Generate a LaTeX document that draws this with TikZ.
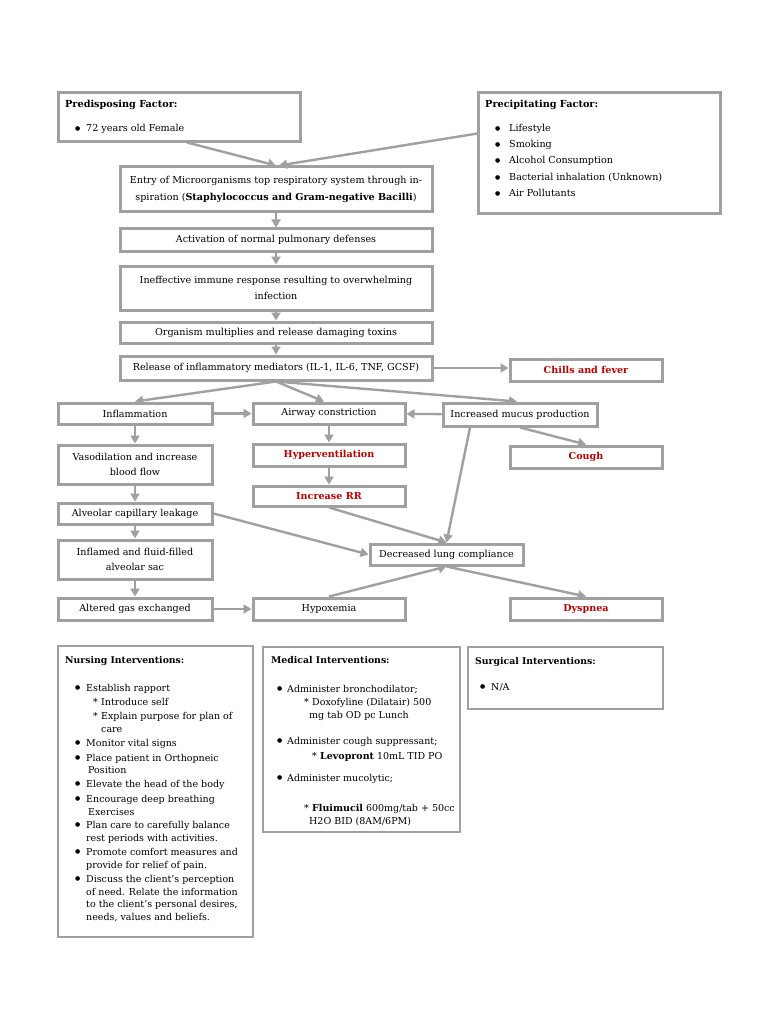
\documentclass[tikz,border=0pt]{standalone}
\usepackage{fontspec}
\setmainfont{DejaVu Serif}
\usetikzlibrary{arrows.meta,calc}
\definecolor{bgray}{RGB}{160,160,160}
\definecolor{dred}{RGB}{190,0,0}
\newcommand{\dotb}{\raisebox{1.2pt}{\fontsize{6}{6}\selectfont ●}}
\begin{document}
\begin{tikzpicture}[x=1pt,y=-1pt,
  box/.style={draw=bgray, line width=3pt, fill=white, inner sep=0pt, align=center,
    font=\fontsize{9.6}{15.5}\selectfont},
  wbox/.style={box, minimum width=154, minimum height=21},
  frame/.style={draw=bgray, line width=2.4pt, fill=white, inner sep=0pt},
  hl/.style={text=dred, font=\fontsize{9.6}{15.5}\selectfont\bfseries},
  arr/.style={draw=bgray, line width=2.4pt, -{Triangle[length=8pt,width=9pt]}},
  txt/.style={anchor=base west, inner sep=0pt, font=\fontsize{9.5}{11}\selectfont},
  ttl/.style={anchor=base west, inner sep=0pt, font=\fontsize{9.3}{11}\selectfont\bfseries},
  ftxt/.style={anchor=base west, inner sep=0pt, font=\fontsize{9.6}{11}\selectfont},
  ftl/.style={anchor=base west, inner sep=0pt, font=\fontsize{9.7}{11}\selectfont\bfseries}]
\path[fill=white] (0,0) rectangle (768,1024);
\useasboundingbox (0,0) rectangle (768,1024);

% ---------- factor boxes ----------
\node[box, minimum width=242, minimum height=49] (pre) at (179,117.5) {};
\node[ftl] (preT) at (65,108) {Predisposing Factor:};
\node[ftxt] (preB) at (75,132) {\dotb};
\node[ftxt] (pre1) at (86,132) {72 years old Female};

\node[box, minimum width=242, minimum height=121] (prec) at (599,153.5) {};
\node[ftl] (precT) at (485,108) {Precipitating Factor:};
\node[ftxt] (pb1) at (495,132) {\dotb};
\node[ftxt] (p1) at (509,132) {Lifestyle};
\node[ftxt] (pb2) at (495,148) {\dotb};
\node[ftxt] (p2) at (509,148) {Smoking};
\node[ftxt] (pb3) at (495,164) {\dotb};
\node[ftxt] (p3) at (509,164) {Alcohol Consumption};
\node[ftxt] (pb4) at (495,181) {\dotb};
\node[ftxt] (p4) at (509,181) {Bacterial inhalation (Unknown)};
\node[ftxt] (pb5) at (495,197) {\dotb};
\node[ftxt] (p5) at (509,197) {Air Pollutants};

% ---------- main chain ----------
\node[box, minimum width=312, minimum height=45, font=\fontsize{9.6}{17}\selectfont] (entry) at (276,189.5)
  {Entry of Microorganisms top respiratory system through in-\\spiration (\textbf{Staphylococcus and Gram-negative Bacilli})};
\node[box, minimum width=312, minimum height=22] (act) at (276,240) {Activation of normal pulmonary defenses};
\node[box, minimum width=312, minimum height=44] (ineff) at (276,288)
  {Ineffective immune response resulting to overwhelming\\infection};
\node[box, minimum width=312, minimum height=21] (org) at (276,332.5) {Organism multiplies and release damaging toxins};
\node[box, minimum width=312, minimum height=24] (rel) at (276,368) {Release of inflammatory mediators (IL-1, IL-6, TNF, GCSF)};
\node[box, minimum width=152, minimum height=22, hl] (chills) at (586,370) {Chills and fever};

\node[wbox] (infl) at (135,413.5) {Inflammation};
\node[box, minimum width=152, minimum height=21] (air) at (329,413.5) {Airway constriction};
\node[box, minimum width=154, minimum height=23] (muc) at (520,414.5) {Increased mucus production};

\node[box, minimum width=152, minimum height=22, hl] (hyperv) at (329,455) {Hyperventilation};
\node[box, minimum width=152, minimum height=20, hl] (rr) at (329,496) {Increase RR};
\node[box, minimum width=152, minimum height=22, hl] (cough) at (586,457) {Cough};

\node[box, minimum width=154, minimum height=39, font=\fontsize{9.6}{14.5}\selectfont] (vaso) at (135,464.5) {Vasodilation and increase\\blood flow};
\node[wbox] (alv) at (135,513.5) {Alveolar capillary leakage};
\node[box, minimum width=154, minimum height=39, font=\fontsize{9.6}{14.5}\selectfont] (infs) at (135,559.5) {Inflamed and fluid-filled\\alveolar sac};
\node[box, minimum width=154, minimum height=22] (alt) at (135,609) {Altered gas exchanged};
\node[box, minimum width=152, minimum height=22] (hypox) at (329,609) {Hypoxemia};
\node[box, minimum width=152, minimum height=22, hl] (dysp) at (586,609) {Dyspnea};
\node[box, minimum width=153, minimum height=21] (dec) at (446.5,554.5) {Decreased lung compliance};

% ---------- connectors ----------
\draw[arr] ($(pre.south)+(8,-1)$) -- (entry.north);
\draw[arr] ($(prec.west)+(1,-20)$) -- ($(entry.north)+(3,0)$);
\draw[arr] (entry) -- (act);
\draw[arr] (act) -- (ineff);
\draw[arr] (ineff) -- (org);
\draw[arr] (org) -- (rel);
\draw[arr] (rel.east) -- (rel.east -| chills.west);
\draw[arr] (rel.south) -- (infl.north);
\draw[arr] (rel.south) -- ($(air.north)+(-5,0)$);
\draw[arr] (rel.south) -- ($(muc.north)+(-3,0)$);
\draw[arr] (infl) -- (air);
\draw[arr] (muc) -- (air);
\draw[arr] (muc.south) -- (cough.north);
\draw[arr] ($(muc.south)+(-50,0)$) -- (dec.north);
\draw[arr] (air) -- (hyperv);
\draw[arr] (hyperv) -- (rr);
\draw[arr] (rr.south) -- (dec.north);
\draw[arr] (infl) -- (vaso);
\draw[arr] (vaso) -- (alv);
\draw[arr] (alv) -- (infs);
\draw[arr] (infs) -- (alt);
\draw[arr] (alt) -- (hypox);
\draw[arr] (alv.east) -- (dec.west);
\draw[arr] (hypox.north) -- (dec.south);
\draw[arr] (dec.south) -- (dysp.north);

% ---------- intervention boxes ----------
\node[frame, minimum width=195, minimum height=291] (nurs) at (155.5,791.5) {};
\node[ttl] (nT) at (65,663) {Nursing Interventions:};
\node[txt] (nb1) at (75,691) {\dotb};  \node[txt] (n1) at (86,691) {Establish rapport};
\node[txt] (ns1) at (93,705) {*};  \node[txt] (n2) at (101,705) {Introduce self};
\node[txt] (ns2) at (93,719) {*};  \node[txt] (n3) at (101,719) {Explain purpose for plan of};
\node[txt] (n3b) at (101,732) {care};
\node[txt] (nb2) at (75,746) {\dotb};  \node[txt] (n4) at (86,746) {Monitor vital signs};
\node[txt] (nb3) at (75,761) {\dotb};  \node[txt] (n5) at (86,761) {Place patient in Orthopneic};
\node[txt] (n5b) at (88,773) {Position};
\node[txt] (nb4) at (75,787) {\dotb};  \node[txt] (n6) at (86,787) {Elevate the head of the body};
\node[txt] (nb5) at (75,802) {\dotb};  \node[txt] (n7) at (86,802) {Encourage deep breathing};
\node[txt] (n7b) at (88,815) {Exercises};
\node[txt] (nb6) at (75,828) {\dotb};  \node[txt] (n8) at (86,828) {Plan care to carefully balance};
\node[txt] (n8b) at (86,841) {rest periods with activities.};
\node[txt] (nb7) at (75,855) {\dotb};  \node[txt] (n9) at (86,855) {Promote comfort measures and};
\node[txt] (n9b) at (86,868) {provide for relief of pain.};
\node[txt] (nb8) at (75,882) {\dotb};  \node[txt] (n10) at (86,882) {Discuss the client’s perception};
\node[txt] (n10b) at (86,895) {of need. Relate the information};
\node[txt] (n10c) at (86,907) {to the client’s personal desires,};
\node[txt] (n10d) at (86,920) {needs, values and beliefs.};

\node[frame, minimum width=197, minimum height=185] (med) at (361.5,739.5) {};
\node[ttl] (mT) at (271,663) {Medical Interventions:};
\node[txt] (mb1) at (277,692) {\dotb};  \node[txt] (m1) at (287,692) {Administer bronchodilator;};
\node[txt] (ms1) at (304,705) {*};  \node[txt] (m2) at (312,705) {Doxofyline (Dilatair) 500};
\node[txt] (m2b) at (309,718) {mg tab OD pc Lunch};
\node[txt] (mb2) at (277,744) {\dotb};  \node[txt] (m3) at (287,744) {Administer cough suppressant;};
\node[txt] (ms2) at (312,759) {*};  \node[txt] (m4) at (320,759) {\textbf{Levopront} 10mL TID PO};
\node[txt] (mb3) at (277,781) {\dotb};  \node[txt] (m5) at (287,781) {Administer mucolytic;};
\node[txt] (ms3) at (304,811) {*};  \node[txt] (m6) at (312,811) {\textbf{Fluimucil} 600mg/tab + 50cc};
\node[txt] (m6b) at (309,824) {H2O BID (8AM/6PM)};

\node[frame, minimum width=195, minimum height=62] (surg) at (565.5,678) {};
\node[ttl] (sT) at (475,664) {Surgical Interventions:};
\node[txt] (sb1) at (480,690) {\dotb};  \node[txt] (s1) at (491,690) {N/A};
\end{tikzpicture}
\end{document}
